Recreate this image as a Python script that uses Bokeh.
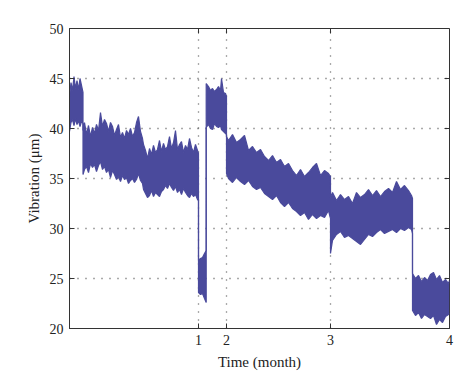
import math
from bokeh.plotting import figure
from bokeh.models import FixedTicker, Range1d
from bokeh.embed import file_html
from bokeh.resources import INLINE

# Sample index along the recording (ticks mark month boundaries); envelope of the vibration signal
# Segment A: start, high level
t_a = [0, 1.5, 3, 4.5, 6, 7.5, 9, 10.5, 12, 13.5]
hi_a = [43.2, 44.6, 43.8, 45.2, 44.0, 44.8, 43.9, 45.0, 44.3, 43.6]
lo_a = [39.7, 40.6, 40.9, 40.3, 41.0, 40.4, 40.8, 40.2, 40.7, 40.5]
# Segment B
t_b = [13.5, 15, 17, 19, 21, 23, 25, 27, 29, 31, 33, 35, 37, 39, 41, 43, 45, 47, 49, 51,
       53, 55, 57, 59, 61, 63, 65, 67, 69, 71, 73, 74]
hi_b = [39.8, 40.6, 39.4, 40.3, 39.2, 40.1, 39.5, 40.4, 39.8, 41.6, 40.2, 40.9, 40.5, 39.7, 40.6, 40.2, 39.3, 39.9, 40.4, 39.1,
        39.6, 39.0, 39.8, 39.4, 40.0, 39.2, 39.6, 40.6, 41.2, 39.7, 39.0, 38.4]
lo_b = [35.4, 35.9, 36.2, 35.6, 36.5, 36.1, 36.4, 35.7, 36.3, 36.7, 35.9, 36.2, 35.6, 35.9, 35.1, 35.8, 35.4, 34.9, 35.2, 34.7,
        35.3, 34.9, 35.1, 34.5, 34.8, 35.0, 34.6, 34.9, 35.5, 34.8, 34.5, 33.9]
# Segment C
t_c = [76, 78, 80, 82, 84, 86, 88, 90, 92, 94, 96, 98, 100, 102, 104, 106, 108, 110, 112, 114,
       116, 118, 120, 122, 124, 126, 128, 129]
hi_c = [37.8, 37.0, 38.0, 37.4, 38.3, 37.6, 37.9, 38.8, 37.7, 38.5, 37.9, 38.2, 39.2, 38.0, 38.6, 39.8, 37.9, 38.4, 38.7, 37.6,
        38.3, 37.9, 39.0, 38.1, 37.6, 38.4, 37.8, 37.5]
lo_c = [33.5, 33.1, 33.3, 33.8, 33.2, 33.6, 33.4, 33.2, 33.7, 33.9, 34.3, 34.0, 34.5, 34.1, 33.8, 34.2, 33.6, 33.9, 33.4, 34.0,
        33.6, 33.3, 33.1, 33.5, 33.2, 33.4, 32.9, 32.8]
# Short drop after month 1
t_d = [129, 131, 133, 135, 136.7]
hi_d = [26.8, 27.0, 27.1, 27.5, 27.8]
lo_d = [23.6, 23.4, 23.5, 23.0, 22.6]
# Segment E: recovery to high level
t_e = [136.7, 139, 141, 143, 145, 147, 149, 151, 152, 154, 156, 157]
hi_e = [44.5, 44.2, 43.8, 44.0, 43.7, 43.9, 44.2, 43.8, 45.0, 43.6, 43.5, 43.2]
lo_e = [40.1, 40.4, 40.0, 39.9, 40.5, 40.2, 40.1, 40.3, 39.9, 39.7, 39.5, 39.4]
# Segment F: slow decline (months 2-3)
t_f = [157, 159, 163, 167, 171, 175, 179, 183, 187, 191, 195, 199, 203, 207, 211, 215, 219, 223, 227, 231,
       235, 239, 243, 247, 251, 255, 259, 261]
hi_f = [39.2, 38.8, 39.4, 38.6, 38.9, 39.3, 37.8, 38.2, 37.6, 37.9, 37.2, 36.8, 37.3, 36.6, 36.9, 36.2, 36.5, 35.8, 35.3, 35.9,
        35.2, 35.6, 36.1, 36.5, 35.3, 35.8, 35.5, 35.2]
lo_f = [35.5, 35.0, 34.6, 35.1, 34.7, 34.4, 34.8, 34.2, 33.9, 34.1, 33.5, 33.2, 32.9, 33.3, 32.6, 32.2, 32.6, 32.0, 31.7, 31.3,
        31.6, 30.9, 31.4, 31.0, 31.3, 31.1, 31.8, 31.0]
# Segment G: month 3 onwards
t_g = [261, 263, 267, 271, 275, 279, 283, 287, 291, 295, 299, 303, 307, 311, 315, 319, 323, 327, 331, 335,
       339, 342, 343]
hi_g = [33.1, 33.6, 32.8, 33.4, 32.9, 33.2, 32.5, 33.6, 33.1, 33.4, 33.9, 33.3, 33.8, 33.2, 33.7, 34.0, 33.6, 34.7, 33.9, 34.3,
        33.8, 33.3, 33.0]
lo_g = [27.5, 28.8, 29.4, 29.7, 29.1, 29.3, 29.0, 28.7, 28.4, 28.9, 29.4, 29.2, 29.6, 29.9, 29.5, 29.7, 29.9, 29.6, 30.0, 29.8,
        30.1, 29.9, 29.5]
# Segment H: final low level
t_h = [343, 346, 349, 352, 355, 358, 361, 364, 367, 370, 373, 376, 379, 380]
hi_h = [25.5, 25.0, 25.3, 24.7, 25.1, 24.8, 25.4, 25.6, 24.9, 25.3, 24.6, 24.9, 24.5, 24.8]
lo_h = [21.8, 21.3, 21.6, 21.0, 21.4, 21.2, 21.0, 21.3, 20.4, 20.9, 20.6, 21.2, 21.4, 21.5]

month_ticks = [129, 157, 261, 380]
month_labels = ["1", "2", "3", "4"]
y_ticks = [20, 25, 30, 35, 40, 45, 50]

sample = t_a + t_b + t_c + t_d + t_e + t_f + t_g + t_h
vib_upper = hi_a + hi_b + hi_c + hi_d + hi_e + hi_f + hi_g + hi_h
vib_lower = lo_a + lo_b + lo_c + lo_d + lo_e + lo_f + lo_g + lo_h

BLUE = "#4a4a9c"
AX = "#333333"
FONT = "Liberation Serif"

p = figure(frame_width=380, frame_height=300,
           min_border_left=69, min_border_right=17, min_border_top=28, min_border_bottom=56,
           x_range=Range1d(month_ticks[0] * 0, month_ticks[-1]), y_range=Range1d(y_ticks[0], y_ticks[-1]),
           output_backend="svg", toolbar_location=None,
           background_fill_color="white", border_fill_color="white")

xt = FixedTicker(ticks=month_ticks)
yt = FixedTicker(ticks=y_ticks)

p.xaxis.ticker = xt
p.xaxis.major_label_overrides = {t: l for t, l in zip(month_ticks, month_labels)}
p.yaxis.ticker = yt

for ax in (p.xaxis[0], p.yaxis[0]):
    ax.axis_line_color = AX
    ax.major_tick_line_color = AX
    ax.major_tick_in = 5
    ax.major_tick_out = 0
    ax.minor_tick_line_color = None
    ax.major_label_text_font = FONT
    ax.major_label_text_font_size = "14px"
    ax.major_label_text_color = "#222222"
    ax.axis_label_text_font = FONT
    ax.axis_label_text_font_size = "15px"
    ax.axis_label_text_font_style = "normal"
    ax.axis_label_text_color = "#222222"

p.xaxis.axis_label = "Time (month)"
p.yaxis.axis_label = "Vibration (\u03bcm)"
p.xaxis.major_label_standoff = 6
p.yaxis.major_label_standoff = 6
p.xaxis.axis_label_standoff = 6
p.yaxis.axis_label_standoff = 5

p.xgrid.ticker = xt
p.ygrid.ticker = yt
for g in (p.xgrid[0], p.ygrid[0]):
    g.grid_line_color = "#444444"
    g.grid_line_dash = "1 7"
    g.grid_line_width = 1.3
    g.grid_line_alpha = 0.9

p.outline_line_color = AX
p.outline_line_width = 1

p.varea(x=sample, y1=vib_lower, y2=vib_upper, fill_color=BLUE, fill_alpha=1)
p.line(sample, vib_upper, line_color=BLUE, line_width=1.2)
p.line(sample, vib_lower, line_color=BLUE, line_width=1.2)

# mirrored (box) ticks on top and right edges, pointing inward
p.ray(x=month_ticks, y=[y_ticks[-1]] * len(month_ticks), length=5, length_units="screen",
      angle=-math.pi / 2, line_color=AX, line_width=1)
p.ray(x=[month_ticks[-1]] * len(y_ticks), y=y_ticks, length=5, length_units="screen",
      angle=math.pi, line_color=AX, line_width=1)

open("out.html", "w").write(file_html(p, INLINE))
